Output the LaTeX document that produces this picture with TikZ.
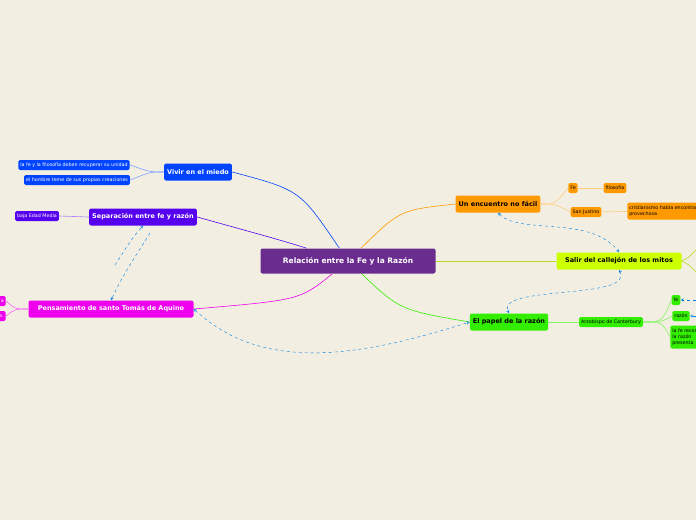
\documentclass[tikz,border=0pt]{standalone}
\usepackage{fontspec}
\setmainfont{DejaVu Sans}
\begin{document}
\begin{tikzpicture}[x=1pt,y=-1pt,>=stealth,semithick]
    \tikzstyle{topic}=[rounded corners=2pt,inner sep=3pt,font=\bfseries\fontsize{6.5}{8}\selectfont,minimum height=17pt]
    \tikzstyle{leaf}=[rounded corners=1.5pt,inner sep=2pt,font=\fontsize{4.8}{5.8}\selectfont,minimum height=10pt,align=left]
    \tikzstyle{link}=[->,dashed,draw=blue!45!cyan!90!black,thin]
    \definecolor{bg}{HTML}{F2EFE2}
    \definecolor{cmain}{HTML}{6A2C8F}
    \definecolor{cblue}{HTML}{0044FF}
    \definecolor{cviol}{HTML}{5500EE}
    \definecolor{cmag}{HTML}{EE00EE}
    \definecolor{corange}{HTML}{FF9900}
    \definecolor{clime}{HTML}{CCFF00}
    \definecolor{cgreen}{HTML}{33EE00}

    \fill[bg] (0,0) rectangle (696,520);
    \clip (0,0) rectangle (696,520);

    % central topic
    \node[topic,fill=cmain,text=white,minimum width=175pt,minimum height=25pt,font=\bfseries\fontsize{7.5}{9}\selectfont] (main) at (348,261) {Relación entre la Fe y la Razón};

    % left topics
    \node[topic,fill=cblue,text=white] (vivir) at (198,172) {Vivir en el miedo};
    \node[leaf,fill=cblue,text=white] (v-1) at (74,165) {la fe y la filosofía deben recuperar su unidad};
    \node[leaf,fill=cblue,text=white] (v-2) at (77,180) {el hombre teme de sus propias creaciones};
    \node[topic,fill=cviol,text=white] (sep) at (143,217) {Separación entre fe y razón};
    \node[leaf,fill=cviol,text=white] (s-1) at (37,216) {baja Edad Media};
    \node[topic,fill=cmag,text=white,minimum width=165pt] (pens) at (111,309) {Pensamiento de santo Tomás de Aquino};
    \node[leaf,fill=cmag,text=white,anchor=east] (p-1) at (6,301) {a};
    \node[leaf,fill=cmag,text=white,anchor=east] (p-2) at (6,316) {a.};

    % right topics
    \node[topic,fill=corange] (enc) at (498,204) {Un encuentro no fácil};
    \node[leaf,fill=corange] (e-1) at (573,188) {Fe};
    \node[leaf,fill=corange] (e-2) at (615,188) {filosofía};
    \node[leaf,fill=corange] (e-3) at (586,212) {San Justino};
    \node[leaf,fill=corange,anchor=west,minimum height=17pt] (e-4) at (627,211) {cristianismo había encontrado\\provechosa};
    \node[topic,fill=clime,minimum width=125pt] (salir) at (619,261) {Salir del callejón de los mitos};
    \node[topic,fill=cgreen] (papel) at (509,322) {El papel de la razón};
    \node[leaf,fill=cgreen] (a-1) at (611,322) {Arzobispo de Canterbury};
    \node[leaf,fill=cgreen] (a-2) at (676,300) {fe};
    \node[leaf,fill=cgreen] (a-3) at (681,316) {razón};
    \node[leaf,fill=cgreen,anchor=west,minimum height=23pt] (a-4) at (670,337) {la fe reconoce\\la razón\\presenta};

    \coordinate (s-a) at (696,250);
    \coordinate (s-b) at (696,272);
    \coordinate (t-1) at (150,233);
    \coordinate (t-2) at (115,265);
    \coordinate (r-1) at (696,300);
    \coordinate (r-2) at (696,316);

    % branches
    \draw[cblue] (main) .. controls (300,190) .. (vivir.east);
    \draw[cviol] (main) .. controls (280,240) .. (sep.east);
    \draw[cmag] (main) .. controls (300,300) .. (pens.east);
    \draw[corange] (main) .. controls (400,210) .. (enc.west);
    \draw[clime!70!gray] (main) -- (salir.west);
    \draw[cgreen] (main) .. controls (400,310) .. (papel.west);
    \draw[clime!70!gray] (salir.east) .. controls (688,258) .. (s-a);
    \draw[clime!70!gray] (salir.east) .. controls (688,264) .. (s-b);
    \foreach \n in {1,2}
    \draw[cblue!50] (vivir.west) .. controls (150,172) .. (v-\n.east);
    \draw[cviol!50] (sep.west) -- (s-1.east);
    \foreach \n in {1,2}
    \draw[cmag!60] (pens.west) .. controls (15,309) .. (p-\n.east);
    \foreach \n in {1,3}
    \draw[corange!50] (enc.east) .. controls (555,204) .. (e-\n.west);
    \draw[corange!50] (e-1) -- (e-2);
    \draw[corange!50] (e-3) -- (e-4);
    \draw[cgreen!60] (papel) -- (a-1);
    \foreach \n in {2,3,4}
    \draw[cgreen!60] (a-1.east) .. controls (662,322) .. (a-\n.west);

    % relations
    \draw[link,<->] (enc.south) .. controls (520,235) and (590,215) .. (salir.north);
    \draw[link,<->] (salir.south) .. controls (635,300) and (495,285) .. (papel.north);
    \draw[link,<->] (pens.east) .. controls (260,370) and (350,360) .. (papel.west);
    \draw[link] (t-1) .. controls (140,250) and (125,270) .. (pens.north);
    \draw[link] (t-2) .. controls (125,250) and (130,240) .. (sep.south);
    \draw[link] (r-1) -- (a-2.east);
    \draw[link] (r-2) -- (a-3.east);
\end{tikzpicture}
\end{document}
